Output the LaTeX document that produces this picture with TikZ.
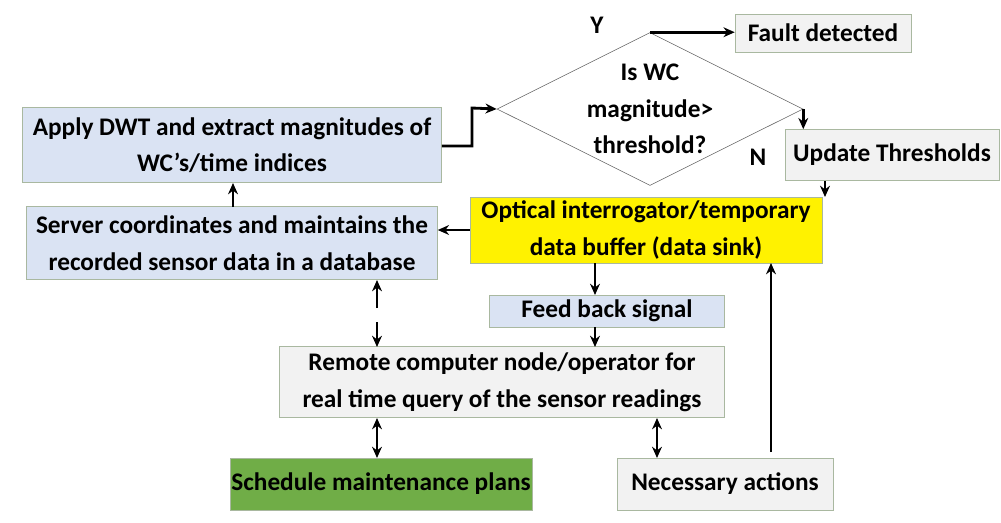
\documentclass[tikz,border=0pt]{standalone}
\usepackage{fontspec}
\setmainfont{Carlito}
\usetikzlibrary{shapes.geometric,arrows.meta}
\definecolor{lblue}{HTML}{DAE3F3}
\definecolor{lgray}{HTML}{F2F2F2}
\definecolor{lgreen}{HTML}{70AD47}
\definecolor{edge}{HTML}{A9B8A0}
\begin{document}
\begin{tikzpicture}[x=0.025cm,y=-0.025cm,
  box/.style={draw=edge,fill=#1,font=\fontsize{18}{26}\selectfont\bfseries,align=center,inner sep=1pt},
  arr/.style={-{Stealth[length=8pt,width=7pt]},line width=2pt},
  dar/.style={{Stealth[length=8pt,width=7pt]}-{Stealth[length=8pt,width=7pt]},line width=2pt}]
\useasboundingbox (0,0) rectangle (1001,522);

%boxes
\node[box=lblue,minimum width=419*0.025cm,minimum height=75*0.025cm] (dwt) at (232,145) {Apply DWT and extract magnitudes of\\WC's/time indices};
\node[draw=black!60,diamond,aspect=2,minimum width=294*0.025cm,minimum height=148*0.025cm,inner sep=0pt,font=\fontsize{18}{26}\selectfont\bfseries,align=center] (dec) at (650,109) {Is WC\\magnitude>\\threshold?};
\node[box=lgray,minimum width=176*0.025cm,minimum height=38*0.025cm] (fault) at (823,33) {Fault detected};
\node[box=lgray,minimum width=214*0.025cm,minimum height=51*0.025cm] (upd) at (892,155) {Update Thresholds};
\node[box=yellow,minimum width=352*0.025cm,minimum height=66*0.025cm] (buf) at (646,230) {Optical interrogator/temporary\\data buffer (data sink)};
\node[box=lblue,minimum width=411*0.025cm,minimum height=73*0.025cm] (srv) at (232,243) {Server coordinates and maintains the\\recorded sensor data in a database};
\node[box=lblue,minimum width=235*0.025cm,minimum height=32*0.025cm] (fb) at (607,311) {Feed back signal};
\node[box=lgray,minimum width=445*0.025cm,minimum height=71*0.025cm] (rem) at (502,382) {Remote computer node/operator for\\real time query of the sensor readings};
\node[box=lgreen,minimum width=287*0.025cm,minimum height=52*0.025cm] (sch) at (381,484) {Schedule maintenance plans};
\node[box=lgray,minimum width=216*0.025cm,minimum height=52*0.025cm] (act) at (725,484) {Necessary actions};
\node[font=\fontsize{18}{22}\selectfont\bfseries] (y) at (597,25) {Y};
\node[font=\fontsize{18}{22}\selectfont\bfseries] (n) at (758,157) {N};

%connectors
\coordinate (bend) at (472,146);
\draw[arr] (dwt.east|-bend) -- (bend) -- (472,108) -- (dec.west);
\draw[arr] (dec.north) -- (fault.west|-dec.north);
\draw[arr] (dec.east) -- (dec.east|-upd.north);
\draw[arr] (825,181) -- (825,197);
\draw[arr] (buf.west) -- (srv.east|-buf.west);
\draw[arr] (233,207) -- (233,183);
\draw[arr] (595,263) -- (595,295);
\draw[arr] (595,327) -- (595,347);
\draw[arr] (377,308) -- (377,280);
\draw[arr] (377,322) -- (377,347);
\draw[dar] (377,418) -- (377,458);
\draw[dar] (657,418) -- (657,458);
\draw[arr] (771,452) -- (771,263);
\end{tikzpicture}
\end{document}
